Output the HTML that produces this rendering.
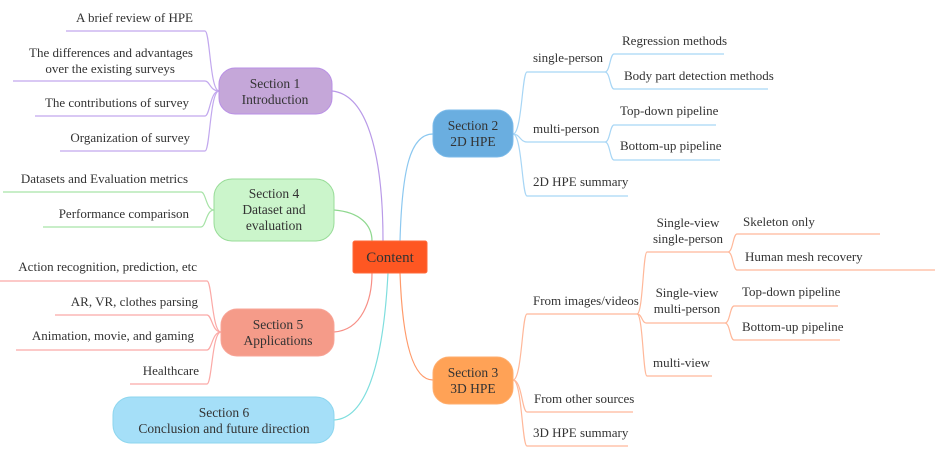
<!DOCTYPE html>
<html><head><meta charset="utf-8"><style>
html,body{margin:0;padding:0;background:#fff;font-family:"Liberation Serif","DejaVu Serif",serif;}
svg{display:block;}
svg text{font-family:"Liberation Serif","DejaVu Serif",serif;font-size:13px;fill:#333;}
svg .n{font-size:13.5px;text-anchor:middle;}
</style></head><body>
<svg width="940" height="460" viewBox="0 0 940 460" xmlns="http://www.w3.org/2000/svg" font-family="Liberation Serif, DejaVu Serif, serif">
<g fill="none" stroke-width="1.2">
<path d="M332,91 C372,95 383,170 383,241" stroke="#b99ae8"/>
<path d="M334,210 C360,212 372,225 372,241" stroke="#8fd88f"/>
<path d="M334,332 C362,330 372,300 372,273" stroke="#f78f86"/>
<path d="M334,420 C375,418 385,330 388,273" stroke="#7fdede"/>
<path d="M400,241 C402,170 410,134 433,134" stroke="#8cc8f0"/>
<path d="M400,273 C402,330 410,380 433,380" stroke="#ff9a6a"/>
<g stroke="#c2a8ee">
<path d="M219,91 C210,91 210,31 205,31 L66,31"/>
<path d="M219,91 C210,91 210,81 205,81 L13,81"/>
<path d="M219,91 C210,91 210,116 205,116 L35,116"/>
<path d="M219,91 C210,91 210,151 205,151 L60,151"/>
</g>
<g stroke="#a6e3a6">
<path d="M214,210 C206,210 206,192 201,192 L3,192"/>
<path d="M214,210 C206,210 206,227 201,227 L43,227"/>
</g>
<g stroke="#fba9a6">
<path d="M221,332 C212,332 212,281 207,281 L0,281"/>
<path d="M221,332 C212,332 212,315 207,315 L55,315"/>
<path d="M221,332 C212,332 212,350 207,350 L16,350"/>
<path d="M221,332 C212,332 212,384 207,384 L130,384"/>
</g>
<g stroke="#a8d6f5">
<path d="M513,134 C522,134 522,72 527,72 L605,72"/>
<path d="M513,134 C520,134 520,142 527,142 L605,142"/>
<path d="M513,134 C522,134 522,196 527,196 L628,196"/>
<path d="M605,72 C610,72 610,54 614,54 L724,54"/>
<path d="M605,72 C610,72 610,89 614,89 L768,89"/>
<path d="M605,142 C610,142 610,125 614,125 L716,125"/>
<path d="M605,142 C610,142 610,160 614,160 L720,160"/>
</g>
<g stroke="#ffb89a">
<path d="M513,380 C522,380 522,314 527,314 L637,314"/>
<path d="M513,380 C522,380 522,412 527,412 L633,412"/>
<path d="M513,380 C522,380 522,446 527,446 L628,446"/>
<path d="M637,314 C643,314 643,252 647,252 L728,252"/>
<path d="M637,314 C642,314 642,323 646,323 L725,323"/>
<path d="M637,314 C643,314 643,376 647,376 L712,376"/>
<path d="M728,252 C733,252 733,234 737,234 L880,234"/>
<path d="M728,252 C733,252 733,270 737,270 L935,270"/>
<path d="M725,323 C730,323 730,306 734,306 L838,306"/>
<path d="M725,323 C730,323 730,340 734,340 L840,340"/>
</g>
</g>
<g font-family="Liberation Serif, DejaVu Serif, serif">
<rect x="353" y="241" width="74" height="32" rx="2" fill="#fe5722" stroke="#ff6a3a"/>
<text class="n" x="390" y="262" style="font-size:15px">Content</text>

<rect x="219" y="68" width="113" height="46" rx="16" fill="#c5a7d9" stroke="#b98fe6"/>
<text class="n" x="275" y="88">Section 1</text><text class="n" x="275" y="104">Introduction</text>

<rect x="214" y="179" width="120" height="62" rx="18" fill="#cbf5cb" stroke="#98dc98"/>
<text class="n" x="274" y="198">Section 4</text><text class="n" x="274" y="214">Dataset and</text><text class="n" x="274" y="230">evaluation</text>

<rect x="221" y="309" width="113" height="47" rx="16" fill="#f59b89" stroke="#f8a497"/>
<text class="n" x="278" y="329">Section 5</text><text class="n" x="278" y="345">Applications</text>

<rect x="113" y="397" width="221" height="46" rx="18" fill="#a5dff8" stroke="#8dd6ee"/>
<text class="n" x="224" y="417">Section 6</text><text class="n" x="224" y="433">Conclusion and future direction</text>

<rect x="433" y="110" width="80" height="47" rx="16" fill="#6aaee0" stroke="#7cbbea"/>
<text class="n" x="473" y="130">Section 2</text><text class="n" x="473" y="146">2D HPE</text>

<rect x="433" y="357" width="80" height="47" rx="16" fill="#ffa256" stroke="#ffae6e"/>
<text class="n" x="473" y="377">Section 3</text><text class="n" x="473" y="393">3D HPE</text>

<g text-anchor="end">
<text x="193" y="22">A brief review of HPE</text>
<text x="193" y="57">The differences and advantages</text>
<text x="175" y="73">over the existing surveys</text>
<text x="189" y="107">The contributions of survey</text>
<text x="190" y="142">Organization of survey</text>
<text x="188" y="183">Datasets and Evaluation metrics</text>
<text x="189" y="218">Performance comparison</text>
<text x="197" y="271">Action recognition, prediction, etc</text>
<text x="198" y="306">AR, VR, clothes parsing</text>
<text x="194" y="340">Animation, movie, and gaming</text>
<text x="199" y="375">Healthcare</text>
</g>
<text x="533" y="62">single-person</text>
<text x="622" y="45">Regression methods</text>
<text x="624" y="80">Body part detection methods</text>
<text x="533" y="133">multi-person</text>
<text x="620" y="115">Top-down pipeline</text>
<text x="620" y="150">Bottom-up pipeline</text>
<text x="533" y="186">2D HPE summary</text>

<text x="533" y="305">From images/videos</text>
<text x="688" y="227" text-anchor="middle">Single-view</text>
<text x="688" y="243" text-anchor="middle">single-person</text>
<text x="743" y="226">Skeleton only</text>
<text x="745" y="261">Human mesh recovery</text>
<text x="687" y="297" text-anchor="middle">Single-view</text>
<text x="687" y="313" text-anchor="middle">multi-person</text>
<text x="742" y="296">Top-down pipeline</text>
<text x="742" y="331">Bottom-up pipeline</text>
<text x="653" y="367">multi-view</text>
<text x="534" y="403">From other sources</text>
<text x="533" y="437">3D HPE summary</text>
</g>
</svg>
</body></html>
